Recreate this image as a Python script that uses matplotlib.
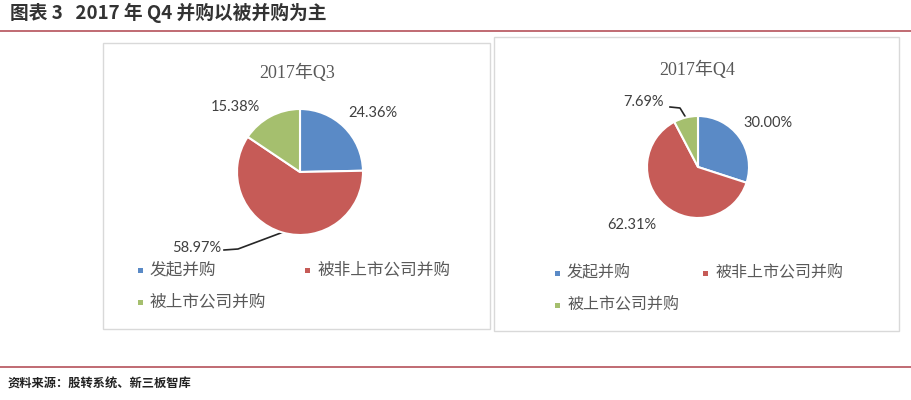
import numpy as np
import matplotlib
matplotlib.use("Agg")
import matplotlib.pyplot as plt
from matplotlib.patches import Rectangle

# ---- data ----
categories = ["发起并购", "被非上市公司并购", "被上市公司并购"]
q3_values = [24.36, 58.97, 15.38]
q4_values = [30.00, 62.31, 7.69]
panel_titles = ["2017年Q3", "2017年Q4"]
header = "图表 3   2017 年 Q4 并购以被并购为主"
source = "资料来源：股转系统、新三板智库"
colors = ["#5A8AC6", "#C65B57", "#A5BF6E"]

W, H = 911, 400
fig = plt.figure(figsize=(W / 100, H / 100), dpi=100)
fig.patch.set_facecolor("white")

bg = fig.add_axes([0, 0, 1, 1], zorder=0)
bg.set_xlim(0, W)
bg.set_ylim(H, 0)
bg.axis("off")

cjk = ["Noto Sans CJK SC", "DejaVu Sans"]
serif = ["Liberation Serif", "Noto Sans CJK SC"]
pctfont = ["Lato", "DejaVu Sans"]

# header / footer
bg.text(10, 13, header, fontsize=13.5, fontweight="bold", family=cjk,
        color="#333333", va="center", ha="left")
bg.plot([0, W], [31, 31], color="#B5525A", lw=1.2)
bg.plot([0, W], [367, 367], color="#B5525A", lw=1.2)
bg.text(8, 384, source, fontsize=8.8, fontweight="bold", family=cjk,
        color="#222222", va="center", ha="left")

# panel boxes
bg.add_patch(Rectangle((103, 43), 387, 286, fill=False, ec="#D9D9D9", lw=1))
bg.add_patch(Rectangle((494, 37), 405, 294, fill=False, ec="#D9D9D9", lw=1))

panels = [
    dict(values=q3_values, title=panel_titles[0], cx=300, cy=172, r=63,
         tx=297, ty=73,
         labels=[(373, 113, "center"), (221, 248, "right"), (235, 107, "center")],
         leader={1: [(238, 249), (224, 250)]},
         leg=[(140, 270), (307, 270), (140, 302)], legfs=12),
    dict(values=q4_values, title=panel_titles[1], cx=698, cy=167, r=51,
         tx=697, ty=70,
         labels=[(768, 123, "center"), (632, 225, "center"), (643, 102, "center")],
         leader={2: [(680, 108), (670, 107)]},
         leg=[(557, 273), (705, 273), (557, 305)], legfs=11.5),
]

for p in panels:
    cx, cy, r = p["cx"], p["cy"], p["r"]
    ax = fig.add_axes([(cx - r) / W, (H - cy - r) / H, 2 * r / W, 2 * r / H], zorder=2)
    wedges, _ = ax.pie(p["values"], colors=colors, startangle=90, counterclock=False,
                       radius=1, wedgeprops=dict(edgecolor="white", linewidth=1.5))
    ax.set_xlim(-1, 1)
    ax.set_ylim(-1, 1)
    ax.set_aspect("auto")
    ax.axis("off")

    bg.text(p["tx"], p["ty"], p["title"], fontsize=13, family=serif,
            color="#595959", ha="center", va="center")

    for i, (v, (lx, ly, ha)) in enumerate(zip(p["values"], p["labels"])):
        bg.text(lx, ly, f"{v:.2f}%", fontsize=10.5, family=pctfont, color="#404040",
                ha=ha, va="center")

    for i, pts in p["leader"].items():
        w = wedges[i]
        mid = np.deg2rad((w.theta1 + w.theta2) / 2)
        ex, ey = cx + r * np.cos(mid), cy - r * np.sin(mid)
        xs = [ex] + [q[0] for q in pts]
        ys = [ey] + [q[1] for q in pts]
        bg.plot(xs, ys, color="#262626", lw=1.2, zorder=3)

    for (mx, my), cat, col in zip(p["leg"], categories, colors):
        bg.add_patch(Rectangle((mx - 2.5, my - 2.5), 5, 5, color=col, lw=0))
        bg.text(mx + 10, my, cat, fontsize=p["legfs"], family=cjk, color="#595959",
                ha="left", va="center")

fig.savefig("out.png", dpi=100, facecolor="white")
